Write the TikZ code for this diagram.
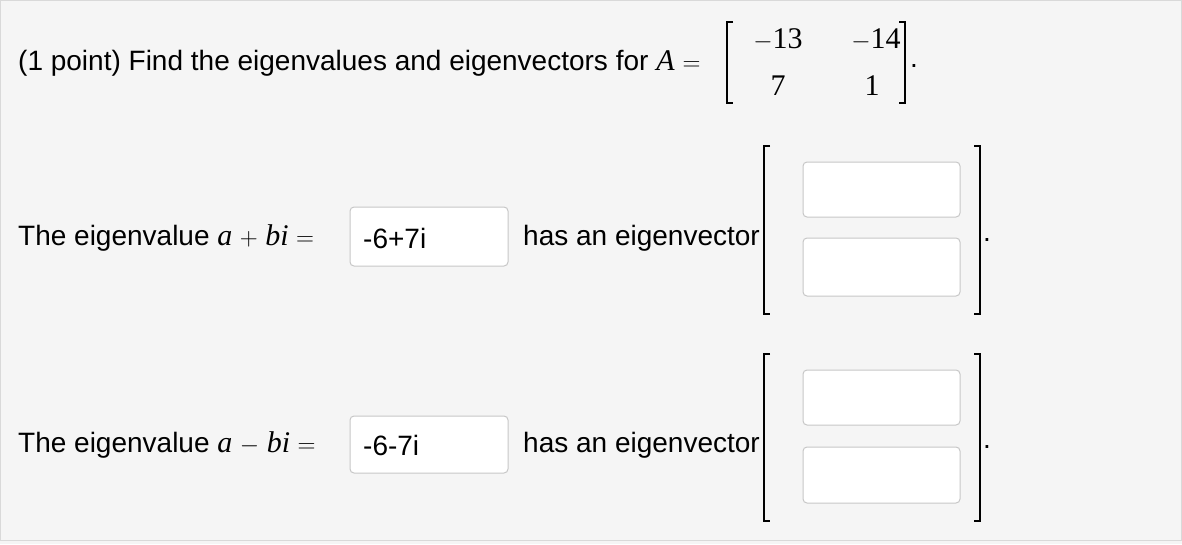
\documentclass[tikz,border=0pt]{standalone}
\usepackage{fontspec}
\setmainfont{Liberation Sans}
\newfontfamily\serifm{Liberation Serif}
\begin{document}
\begin{tikzpicture}[x=1pt,y=-1pt,
  txt/.style={anchor=west,inner sep=0pt,font=\fontsize{28}{32}\selectfont},
  mth/.style={anchor=center,inner sep=0pt,font=\serifm\fontsize{30}{34}\selectfont},
  inbox/.style={draw=black!22,fill=white,rounded corners=4pt,line width=1pt},
  brk/.style={line width=1.6pt}]
\useasboundingbox (0,0) rectangle (1182,544);
\fill[black!4] (0,0) rectangle (1182,544);
\draw[black!15,line width=1pt] (0.5,0.5) rectangle (1181.5,540);
% title
\node[txt] (t) at (18,63) {(1 point) Find the eigenvalues and eigenvectors for \textit{\serifm\fontsize{30}{34}\selectfont A} {\fontsize{30}{34}\selectfont$=$}};
\draw[brk] (733,22) -- (727,22) -- (727,103) -- (733,103);
\draw[brk] (899,22) -- (905,22) -- (905,103) -- (899,103);
\node[mth] (m11) at (778,40) {$-$13};
\node[mth] (m12) at (876,40) {$-$14};
\node[mth] (m21) at (778,86) {7};
\node[mth] (m22) at (872,86) {1};
\node[txt] (p0) at (910,66) {.};
% row 1
\node[txt] (l1) at (18,238) {The eigenvalue {\serifm\fontsize{30}{34}\selectfont\textit{a} $+$ \textit{bi} $=$}};
\draw[inbox] (350,207) rectangle (508,266);
\node[txt] (v1) at (363,238) {-6+7i};
\node[txt] (h1) at (523,238) {has an eigenvector};
\draw[brk] (770,146) -- (764,146) -- (764,314) -- (770,314);
\draw[brk] (974,146) -- (980,146) -- (980,314) -- (974,314);
\draw[inbox] (803,162) rectangle (960,217);
\draw[inbox] (803,238) rectangle (960,296);
\node[txt] (p1) at (983,240) {.};
% row 2
\node[txt] (l2) at (18,445) {The eigenvalue {\serifm\fontsize{30}{34}\selectfont\textit{a} $-$ \textit{bi} $=$}};
\draw[inbox] (350,416) rectangle (508,473);
\node[txt] (v2) at (363,445) {-6-7i};
\node[txt] (h2) at (523,445) {has an eigenvector};
\draw[brk] (770,354) -- (764,354) -- (764,521) -- (770,521);
\draw[brk] (974,354) -- (980,354) -- (980,521) -- (974,521);
\draw[inbox] (803,370) rectangle (960,425);
\draw[inbox] (803,447) rectangle (960,503);
\node[txt] (p2) at (983,447) {.};
\end{tikzpicture}
\end{document}
